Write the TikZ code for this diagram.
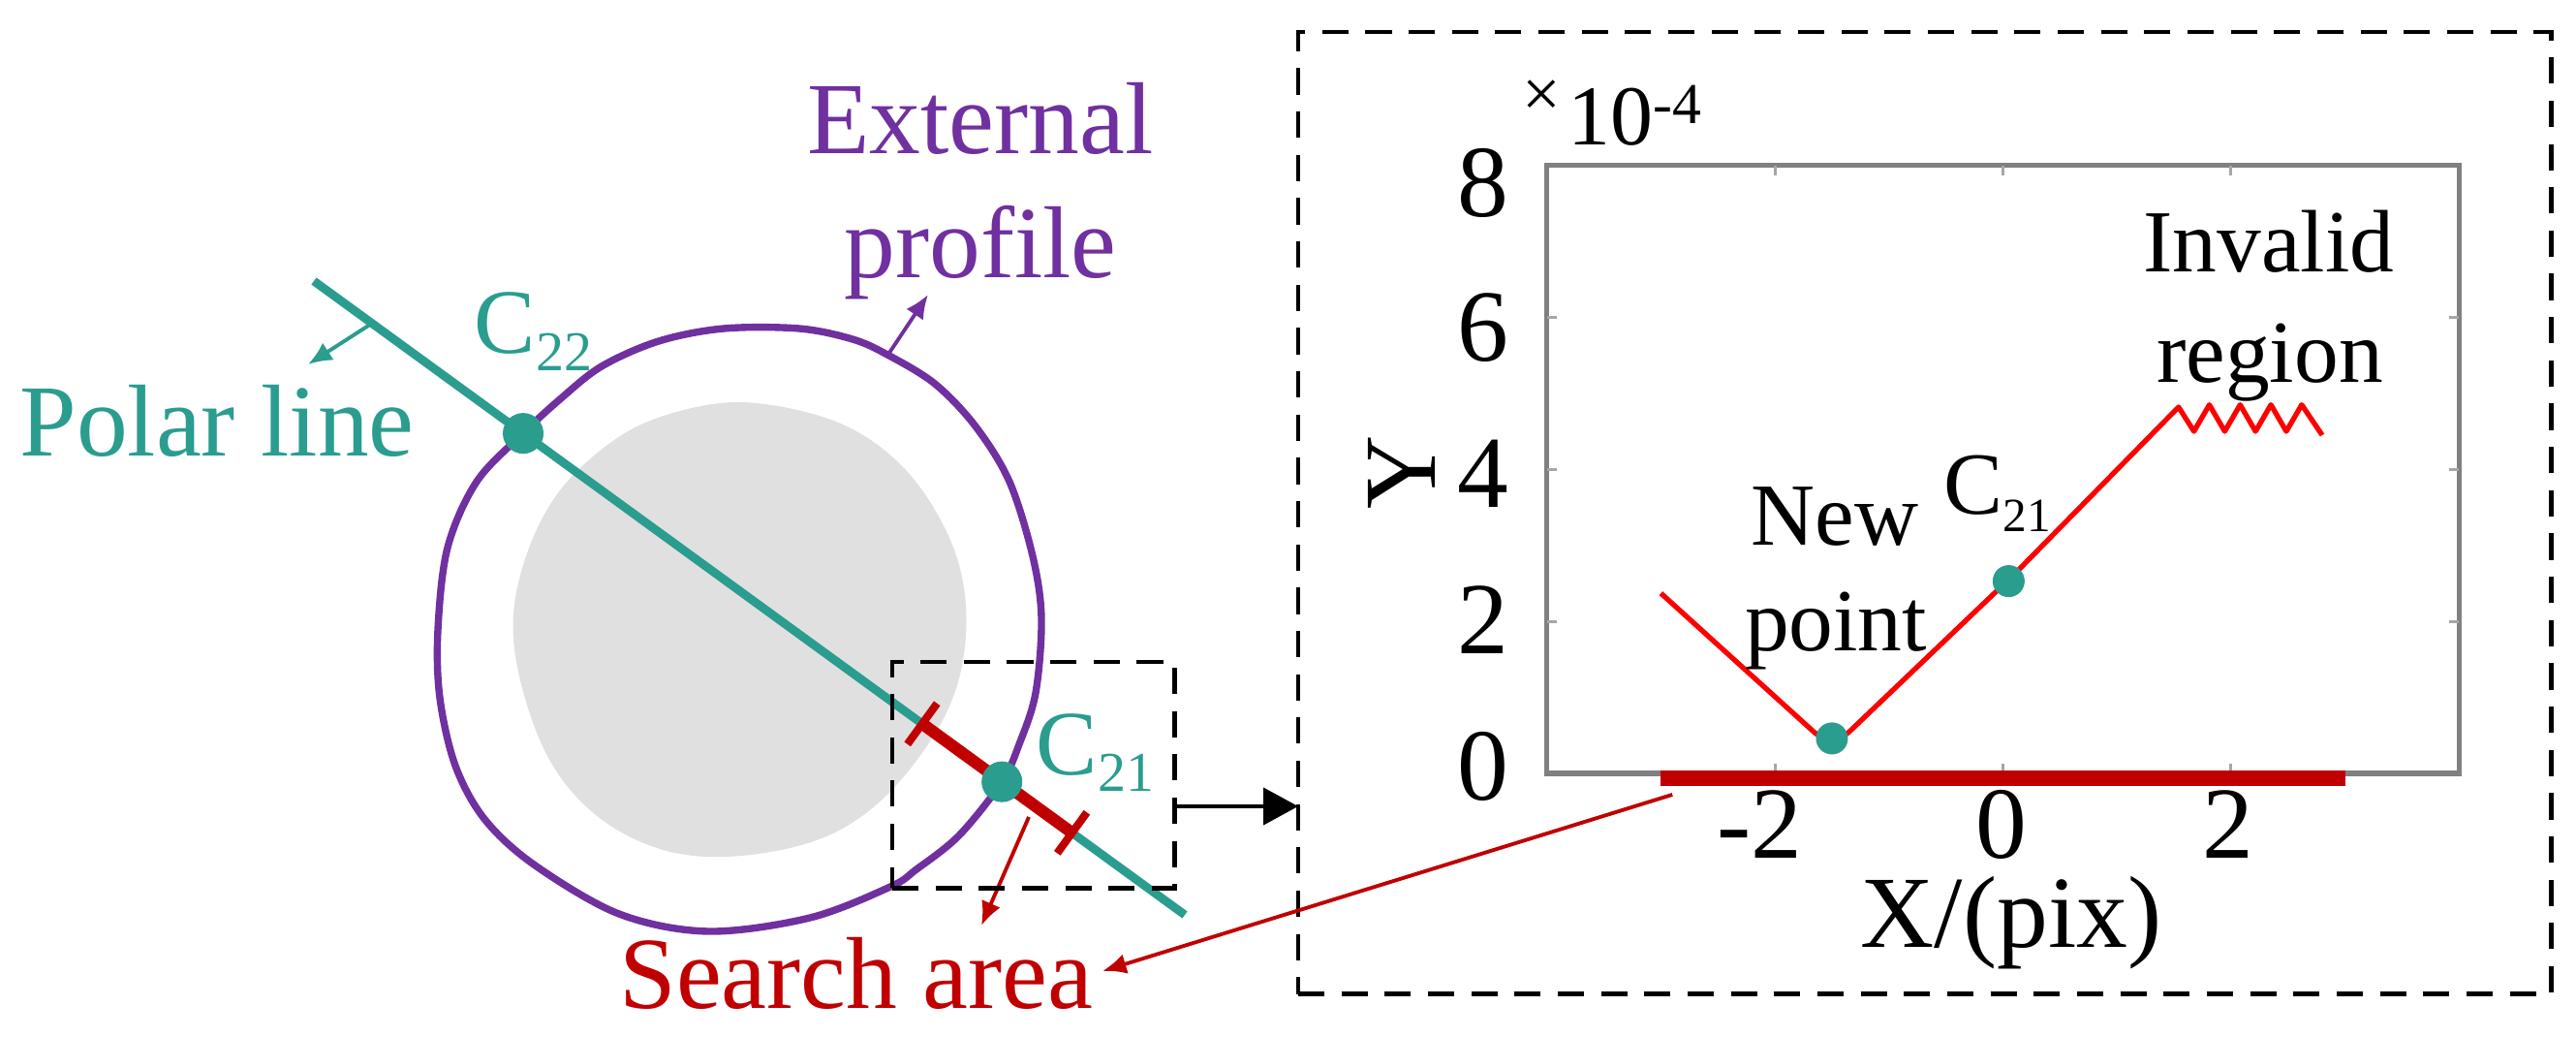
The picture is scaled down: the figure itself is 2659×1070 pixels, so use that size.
\documentclass[tikz,border=0pt]{standalone}
\usepackage{fontspec}
\setmainfont{Liberation Serif}
\usetikzlibrary{calc,arrows.meta}
\definecolor{tealc}{RGB}{42,157,143}
\definecolor{purp}{RGB}{112,48,160}
\definecolor{dred}{RGB}{192,0,0}
\definecolor{bred}{RGB}{255,0,0}
\definecolor{blobgray}{RGB}{224,224,224}
\definecolor{axgray}{RGB}{128,128,128}
\tikzset{
  dashbox/.style={draw=black, line width=1.4pt, dash pattern=on 7.7pt off 5pt,
    rectangle, inner sep=0pt, outer sep=0pt},
  bigfont/.style={font=\fontsize{30}{36}\selectfont},
  plotfont/.style={font=\fontsize{26}{31}\selectfont},
  thinarrow/.style={line width=1.1pt, -{Latex[length=7pt,width=6pt]}},
  bigdot/.style={circle, fill=tealc, inner sep=0pt, minimum size=0.42cm},
  plotdot/.style={circle, fill=tealc, inner sep=0pt, minimum size=0.33cm},
  ticklab/.style={font=\fontsize{30}{36}\selectfont, inner sep=0pt},
}
\newcommand{\subtxt}[2]{{\raisebox{-5pt}{\fontsize{#1}{#1}\selectfont #2}}}
\begin{document}
\begin{tikzpicture}[x=0.01cm,y=-0.01cm]
\useasboundingbox (0,0) rectangle (2659,1070);

% ---------------- left part ----------------
% gray core
\fill[blobgray] plot[smooth cycle, tension=0.6] coordinates {
  (781,416) (870,438) (935,485) (980,555) (997,625) (990,700) (960,765)
  (905,830) (840,868) (750,884) (675,874) (608,835) (560,770) (531,670)
  (538,590) (575,510) (640,450) (710,422)};
% external profile
\draw[purp, line width=2.1pt] plot[smooth cycle, tension=0.55] coordinates {
  (540,447) (578,412) (621,378) (680,352) (747,339) (825,339) (880,350)
  (916,366) (965,396) (1007,440) (1042,497) (1066,574) (1075,638) (1069,715)
  (1052,768) (1034,807) (990,862) (946,897) (919,915) (836,947) (731,961)
  (639,943) (551,892) (500,845) (470,790) (454,720) (452,650)
  (462,565) (492,497)};

% polar line
\coordinate (P1) at (324,290);
\coordinate (P2) at (1223,944);
\draw[tealc, line width=2.5pt] (P1) -- (P2);

% search segment
\coordinate (s1) at ($(P1)!0.6985!(P2)$);
\coordinate (s2) at ($(P1)!0.8705!(P2)$);
\draw[dred, line width=3.5pt] (s1) -- (s2);
\draw[dred, line width=2.3pt] ($(s1)!0.26cm!90:(P2)$) -- ($(s1)!0.26cm!-90:(P2)$);
\draw[dred, line width=2.3pt] ($(s2)!0.26cm!90:(P2)$) -- ($(s2)!0.26cm!-90:(P2)$);

% points
\node[bigdot] (c22) at ($(P1)!0.2403!(P2)$) {};
\node[bigdot] (c21) at ($(P1)!0.79!(P2)$) {};

% labels left
\node[anchor=base, bigfont, text=tealc, inner sep=0pt] (polar) at (224,470) {Polar line};
\node[anchor=base west, font=\fontsize{27}{32}\selectfont, text=tealc, inner sep=0pt]
  (c22lab) at (489,365) {C\subtxt{16.5}{22}};
\node[anchor=base west, font=\fontsize{27}{32}\selectfont, text=tealc, inner sep=0pt]
  (c21lab) at (1069,799) {C\subtxt{16.5}{21}};
\node[anchor=base, bigfont, text=purp, inner sep=0pt] (ext1) at (1012,159) {External};
\node[anchor=base, bigfont, text=purp, inner sep=0pt] (ext2) at (1012,287) {profile};
\node[anchor=base, bigfont, text=dred, inner sep=0pt] (search) at (884,1040) {Search area};

% pointer arrows
\coordinate (ta1) at ($(P1)!0.0667!(P2)$);
\coordinate (ta2) at (318,376);
\draw[tealc, thinarrow] (ta1) -- (ta2);
\coordinate (pa1) at (916,367);
\coordinate (pa2) at (958,304);
\draw[purp, thinarrow] (pa1) -- (pa2);
\coordinate (sa1) at (1062,843);
\coordinate (sa1e) at (1013,955);
\draw[dred, thinarrow] (sa1) -- (sa1e);

% zoom box
\node[dashbox, minimum width=2.91cm, minimum height=2.33cm, anchor=north west]
  (zoombox) at (921,683) {};
% big box
\node[dashbox, minimum width=12.93cm, minimum height=9.92cm, anchor=north west]
  (bigbox) at (1340,33) {};
\coordinate (arrowy) at (0,832);
\draw[black, line width=1.1pt, -{Triangle[length=10.2pt,width=10.8pt]}]
  (zoombox.east |- arrowy) -- (bigbox.west |- arrowy);

% ---------------- plot ----------------
\begin{scope}[shift={(2067.5,798)}, x=1.17625cm, y=0.78375cm]
  \draw[axgray, line width=1.5pt] (-4,0) rectangle (4,8);
  \foreach \t in {-2,0,2} {
    \draw[axgray!70, line width=0.8pt] (\t,0) -- (\t,0.13);
    \draw[axgray!70, line width=0.8pt] (\t,8) -- (\t,7.87);
  }
  \foreach \t in {2,4,6} {
    \draw[axgray!70, line width=0.8pt] (-4,\t) -- (-3.915,\t);
    \draw[axgray!70, line width=0.8pt] (4,\t) -- (3.915,\t);
  }
  \draw[bred, line width=1.5pt, rounded corners=7pt]
    (-3,2.37) -- (-1.5,0.33) -- (0.05,2.55);
  \draw[bred, line width=1.5pt, line join=round]
    (0.04,2.53) -- (1.54,4.82) -- (1.675,4.5) -- (1.81,4.85) -- (1.945,4.5)
    -- (2.08,4.85) -- (2.215,4.5) -- (2.35,4.85) -- (2.485,4.5) -- (2.62,4.85)
    -- (2.80,4.45);
  \draw[dred, line width=4.3pt] (-3,-0.064) -- (3,-0.064);
  \node[plotdot] (newpt) at (-1.5,0.46) {};
  \node[plotdot] (c21p) at (0.05,2.53) {};
  \coordinate (barend) at (-2.9,-0.28);
\end{scope}
\coordinate (sa2) at (1138,1002);
\draw[dred, thinarrow] (barend) -- (sa2);

% plot labels
\node[anchor=base west, font=\fontsize{25}{30}\selectfont, inner sep=0pt] (mult) at (1571,150)
  {\raisebox{8.5pt}{\fontsize{20}{20}\selectfont ×}\hspace{2pt}10\raisebox{6.5pt}{\fontsize{17}{17}\selectfont -4}};
\node[ticklab, anchor=base east] (y8) at (1558,224) {8};
\node[ticklab, anchor=base east] (y6) at (1558,373) {6};
\node[ticklab, anchor=base east] (y4) at (1558,523) {4};
\node[ticklab, anchor=base east] (y2) at (1558,674) {2};
\node[ticklab, anchor=base east] (y0) at (1558,825) {0};
\node[ticklab, anchor=base] (xm2) at (1816,885) {-2};
\node[ticklab, anchor=base] (x0) at (2066,885) {0};
\node[ticklab, anchor=base] (x2) at (2300,885) {2};
\node[ticklab, anchor=base] (xlab) at (2076,977) {X/(pix)};
\node[ticklab, rotate=90] (ylab) at (1447,487) {Y};
\node[plotfont, anchor=base, inner sep=0pt] (inv1) at (2342,281) {Invalid};
\node[plotfont, anchor=base, inner sep=0pt] (inv2) at (2343,395) {region};
\node[plotfont, anchor=base, inner sep=0pt] (new1) at (1894,562) {New};
\node[plotfont, anchor=base, inner sep=0pt] (new2) at (1895,671) {point};
\node[plotfont, anchor=base west, inner sep=0pt] (c21plab) at (2006,531) {C\subtxt{14}{21}};
\end{tikzpicture}
\end{document}
